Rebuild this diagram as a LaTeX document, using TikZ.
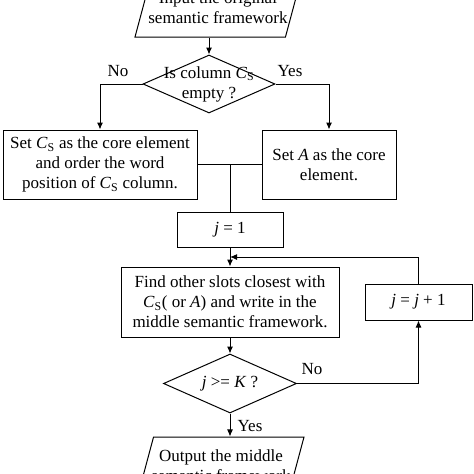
\documentclass[tikz,border=0pt]{standalone}
\usepackage{fontspec}
\setmainfont{Liberation Serif}
\usepackage{tikz}
\usetikzlibrary{shapes.geometric,arrows,arrows.meta}
\newcommand{\colCs}{\textit{C}\textsubscript{S}}

\begin{document}
\begin{tikzpicture}[x=1pt,y=-1pt,
                    line width=1pt,
                    font=\fontsize{17}{20}\selectfont,
                    arr/.style={-{Latex[length=7pt,width=6pt]}},
                    box/.style n args={2}{rectangle,draw,
                    minimum width=#1pt,
                    minimum height=#2pt,
                    inner sep=0pt,align=center},
                    io/.style={trapezium,draw,
                    trapezium left angle=75,
                    trapezium right angle=105,
                    trapezium stretches body=true,
                    minimum width=166pt,
                    inner sep=0pt},
                    dec/.style n args={2}{diamond,draw,
                    minimum width=#1pt,
                    minimum height=#2pt,
                    inner sep=0pt}]
    \useasboundingbox (0,0) rectangle (474,474);
    \clip (0,0) rectangle (474,474);

    \node[io,label={[align=center]center:Input the original\\semantic framework}] (inp) at (218,8) {\rule{0pt}{58pt}};
    \node[dec={132}{58},label={[align=center]center:Is column \colCs\\empty ?}] (dec1) at (209,84) {};
    \node[box={194}{69}] (sc) at (100,164.5) {Set \colCs{} as the core element\\and order the word\\position of \colCs{} column.};
    \node[box={134}{69}] (sa) at (329,164.5) {Set \textit{A} as the core\\element.};
    \node[box={106}{35}] (j1) at (230,229.5) {\textit{j} = 1};
    \node[box={218}{70}] (find) at (230,302) {Find other slots closest with\\\colCs( or \textit{A}) and write in the\\middle semantic framework.};
    \node[box={107}{36}] (inc) at (418.5,302) {\textit{j} = \textit{j} + 1};
    \node[dec={133}{59},label={center:\textit{j} >= \textit{K} ?}] (dec2) at (230,383.5) {};
    \node[io,label={[align=center]center:Output the middle\\semantic framework}] (out) at (221,466) {\rule{0pt}{58pt}};

    \node (no1) at (118,71) {No};
    \node (yes1) at (290,71) {Yes};
    \node (no2) at (312,369) {No};
    \node (yes2) at (250,426) {Yes};
    \coordinate (fb) at (230,257);

    \draw[arr] (dec1.north |- inp.south) -- (dec1.north);
    \draw[arr] (dec1.west) -| (sc.north);
    \draw[arr] (dec1.east) -| (sa.north);
    \draw (sc.east) -- (sa.west);
    \draw (j1.north) -- (j1.north |- sc.east);
    \draw[arr] (j1.south) -- (find.north);
    \draw[arr] (inc.north) |- (fb);
    \draw[arr] (find.south) -- (dec2.north);
    \draw[arr] (dec2.east) -| (inc.south);
    \draw[arr] (dec2.south) -- (dec2.south |- out.north);
\end{tikzpicture}
\end{document}
